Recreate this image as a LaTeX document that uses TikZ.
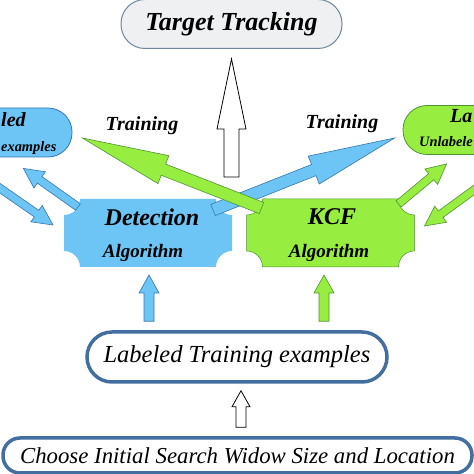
\documentclass[tikz,border=0pt]{standalone}
\usepackage{fontspec}
\setmainfont{Liberation Serif}
\usepackage{tikz}
\usetikzlibrary{arrows}
\usetikzlibrary{calc}
\definecolor{skyfill}{RGB}{108,197,245}
\definecolor{skyline}{RGB}{52,118,178}
\definecolor{limefill}{RGB}{152,238,64}
\definecolor{limeline}{RGB}{78,146,52}
\definecolor{steelline}{RGB}{66,110,160}
\definecolor{trackfill}{RGB}{238,240,242}
\definecolor{trackline}{RGB}{112,134,156}
\tikzstyle{track} = [draw=trackline,fill=trackfill,line width=1pt,rounded corners=24pt,minimum width=221pt,minimum height=49pt,font=\fontsize{26}{30}\selectfont\bfseries\itshape]
\tikzstyle{pool} = [line width=0.8pt,rounded corners=24pt,minimum height=49pt,minimum width=150pt]
\tikzstyle{algo} = [minimum width=168pt,minimum height=68pt,outer sep=0pt,inner sep=0pt]
\tikzstyle{stage} = [draw=steelline,fill=white,line width=3.5pt,font=\itshape]
\tikzstyle{lbl} = [inner sep=0pt,font=\fontsize{20}{24}\selectfont\bfseries\itshape]
\tikzstyle{title} = [inner sep=0pt,font=\fontsize{24}{28}\selectfont\bfseries\itshape]
\tikzstyle{sub} = [inner sep=0pt,font=\fontsize{19}{22}\selectfont\bfseries\itshape]
\tikzstyle{small} = [inner sep=0pt,font=\fontsize{14.4}{17}\selectfont\bfseries\itshape]
\tikzstyle{hollow} = [draw=black,fill=white,line width=0.8pt]
\tikzstyle{bluearr} = [draw=skyline,fill=skyfill,line width=0.6pt]
\tikzstyle{greenarr} = [draw=limeline,fill=limefill,line width=0.6pt]

% block arrow: [style]{from}{to}{shaft half width}{head half width}{head length}
\newcommand{\fatarrow}[6][]{%
  \coordinate (hb) at ($(#3)!#6!(#2)$);
  \draw[#1] ($(#2)!#4!90:(#3)$) -- ($(hb)!#4!90:(#3)$) -- ($(hb)!#5!90:(#3)$) -- (#3)
    -- ($(hb)!#5!-90:(#3)$) -- ($(hb)!#4!-90:(#3)$) -- ($(#2)!#4!-90:(#3)$) -- cycle;
}
% box with hollowed corners round a node
\newcommand{\concave}[2]{%
  \path[#2] ($(#1.north west)+(16pt,0)$) -- ($(#1.north east)+(-16pt,0)$)
    arc[start angle=180,end angle=270,radius=16pt] -- ($(#1.south east)+(0,16pt)$)
    arc[start angle=90,end angle=180,radius=16pt] -- ($(#1.south west)+(16pt,0)$)
    arc[start angle=0,end angle=90,radius=16pt] -- ($(#1.north west)+(0,-16pt)$)
    arc[start angle=270,end angle=360,radius=16pt] -- cycle;
}

\begin{document}
\begin{tikzpicture}[x=1pt,y=1pt,>=latex']
\useasboundingbox (0,0) rectangle (474,474);
\clip (0,0) rectangle (474,474);

% Draw blocks and texts
    \node[track] (target) at (231.5,450) {Target Tracking};
    \node[pool,draw=skyline,fill=skyfill] (lpool) at (-3,341.5) {};
    \node[pool,draw=limeline,fill=limefill] (rpool) at (478,344) {};
    \node[small,anchor=base west] (lpool-a) at (1,347) {\fontsize{20}{24}\selectfont led};
    \node[small,anchor=base west] (lpool-b) at (1,322) {examples};
    \node[small,anchor=base west] (rpool-a) at (450,351) {\fontsize{20}{24}\selectfont La};
    \node[small,anchor=base west] (rpool-b) at (419,327) {Unlabele};

    \node[algo] (det) at (148,241) {};
    \node[algo] (kcf) at (330.5,241) {};
    \concave{det}{fill=skyfill}
    \concave{kcf}{fill=limefill,draw=limeline,line width=0.5pt}
    \node[title] (det-a) at (152,257) {Detection};
    \node[sub] (det-b) at (143,221) {Algorithm};
    \node[title] (kcf-a) at (332,257) {KCF};
    \node[sub] (kcf-b) at (329,221) {Algorithm};

    \node[lbl] (trl) at (142,348) {Training};
    \node[lbl] (trr) at (342,350) {Training};

    \node[stage,rounded corners=25pt,minimum width=300pt,minimum height=50pt,
          font=\fontsize{24.5}{28}\selectfont\itshape] (lab) at (237,117) {Labeled Training examples};
    \node[stage,rounded corners=17pt,minimum width=469pt,minimum height=35pt,
          font=\fontsize{22.8}{26}\selectfont\itshape] (init) at (237.5,18.5) {Choose Initial Search Widow Size and Location};

    % end points
    \coordinate (up-tip) at ($(target.south)+(0,-10)$);
    \coordinate (up-base) at ($(up-tip)+(0,-118)$);
    \coordinate (a1) at ($(det.north west)+(14,-8)$);
    \coordinate (a1-tip) at ($(lpool.south east)+(-49,-11)$);
    \coordinate (a2) at (-25,303);
    \coordinate (a2-tip) at ($(det.west)+(-11,8)$);
    \coordinate (a3) at ($(kcf.north east)+(-16,-5)$);
    \coordinate (a3-tip) at ($(rpool.south west)+(44,-9)$);
    \coordinate (a4) at (500,303);
    \coordinate (a4-tip) at ($(kcf.east)+(10,7)$);
    \coordinate (tb) at ($(det.north east)+(-19,-11)$);
    \coordinate (tb-tip) at ($(rpool.west)+(-8,-8)$);
    \coordinate (tg) at ($(kcf.north west)+(15,-9)$);
    \coordinate (tg-tip) at ($(lpool.east)+(10,-5.5)$);
    \coordinate (in-tip) at ($(lab.south)+(4,-7)$);
    \coordinate (in-base) at ($(init.north)+(3.5,9)$);

    % join up
    \fatarrow[hollow]{up-base}{up-tip}{7.5pt}{14.5pt}{70pt}
    \fatarrow[bluearr]{a1}{a1-tip}{4pt}{10pt}{20pt}
    \fatarrow[bluearr]{a2}{a2-tip}{4pt}{10pt}{20pt}
    \fatarrow[greenarr]{a3}{a3-tip}{4pt}{10pt}{20pt}
    \fatarrow[greenarr]{a4}{a4-tip}{4pt}{10pt}{20pt}
    \fatarrow[bluearr]{tb}{tb-tip}{6pt}{15pt}{87pt}
    \fatarrow[greenarr]{tg}{tg-tip}{6pt}{15pt}{87pt}
    \foreach \s/\c/\x in {bluearr/det/1,greenarr/kcf/-6.5} {
        \coordinate (u) at ($(lab.north -| \c)+(\x,9)$);
        \coordinate (v) at ($(\c.south)+(\x,-8)$);
        \fatarrow[\s]{u}{v}{5pt}{10pt}{18pt}
    }
    \fatarrow[hollow]{in-base}{in-tip}{5pt}{9pt}{16pt}

\end{tikzpicture}
\end{document}
